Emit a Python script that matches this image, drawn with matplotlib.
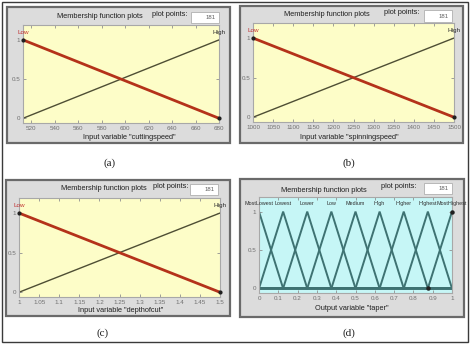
import matplotlib
matplotlib.use("Agg")
import matplotlib.pyplot as plt
from matplotlib.patches import Rectangle

W, H = 474, 347

# ---- data ----
speed_xlim = [513, 680]
speed_ticks = [520, 540, 560, 580, 600, 620, 640, 660, 680]
spin_xlim = [1000, 1500]
spin_ticks = [1000, 1050, 1100, 1150, 1200, 1250, 1300, 1350, 1400, 1450, 1500]
depth_xlim = [1, 1.5]
depth_ticks = [1, 1.05, 1.1, 1.15, 1.2, 1.25, 1.3, 1.35, 1.4, 1.45, 1.5]
depth_ticklabels = ["1", "1.05", "1.1", "1.15", "1.2", "1.25", "1.3", "1.35", "1.4", "1.45", "1.5"]
low_mf = [1, 0]
high_mf = [0, 1]

taper_xlim = [0, 1]
taper_ticks = [0, 0.1, 0.2, 0.3, 0.4, 0.5, 0.6, 0.7, 0.8, 0.9, 1]
taper_ticklabels = ["0", "0.1", "0.2", "0.3", "0.4", "0.5", "0.6", "0.7", "0.8", "0.9", "1"]
taper_names = ["MostLowest", "Lowest", "Lower", "Low", "Medium",
               "High", "Higher", "Highest", "MostHighest"]
taper_params = [[-0.125, 0, 0.125], [0, 0.125, 0.25], [0.125, 0.25, 0.375],
                [0.25, 0.375, 0.5], [0.375, 0.5, 0.625], [0.5, 0.625, 0.75],
                [0.625, 0.75, 0.875], [0.75, 0.875, 1], [0.875, 1, 1.125]]
yticks = [0, 0.5, 1]
yticklabels = ["0", "0.5", "1"]
plot_points = "181"

FONT = ["Liberation Sans", "DejaVu Sans"]
plt.rcParams["font.family"] = FONT

fig = plt.figure(figsize=(W / 100, H / 100), dpi=100)
fig.patch.set_facecolor("white")


def fx(x):
    return x / W


def fy(y):
    return 1 - y / H


def rect(x0, y0, x1, y1, zorder=1, **kw):
    fig.add_artist(Rectangle((fx(x0), fy(y1)), (x1 - x0) / W, (y1 - y0) / H,
                             transform=fig.transFigure, zorder=zorder, **kw))


def text(x, y, s, **kw):
    fig.text(fx(x), fy(y), s, **kw)


# outer border
rect(2, 2, 468, 342, zorder=-2, facecolor="none", edgecolor="#3a3a3a", lw=1.0)


def panel(frame, axbox, title_xy, pp_xy, box, xlabel_xy, xlabel, tag_xy, tag,
          xlim, ticks, ticklabels, face):
    rect(*frame, zorder=-1, facecolor="#dcdcdc", edgecolor="#6a6a6a", lw=1.6)
    x0, y0, x1, y1 = axbox
    ax = fig.add_axes([fx(x0), fy(y1), (x1 - x0) / W, (y1 - y0) / H])
    ax.set_facecolor(face)
    ax.set_xlim(*xlim)
    ax.set_ylim(-0.06, 1.19)
    ax.set_xticks(ticks)
    ax.set_xticklabels(ticklabels)
    ax.set_yticks(yticks)
    ax.set_yticklabels(yticklabels)
    ax.tick_params(direction="in", length=2.5, width=0.6, color="#909090",
                   labelsize=4.5, labelcolor="#707070", pad=2,
                   top=True, right=True)
    for sp in ax.spines.values():
        sp.set_color("#a8a8a8")
        sp.set_linewidth(0.8)
    text(title_xy[0], title_xy[1], "Membership function plots", fontsize=5.3,
         ha="center", va="center", color="#202020")
    text(pp_xy[0], pp_xy[1], "plot points:", fontsize=5.3, ha="left",
         va="center", color="#202020")
    bx0, by0, bx1, by1 = box
    rect(bx0, by0, bx1, by1, zorder=2, facecolor="white", edgecolor="#b0b0b0", lw=0.6)
    text(bx1 - 3, (by0 + by1) / 2, plot_points, fontsize=4.3, ha="right",
         va="center", color="#606060", zorder=3)
    text(xlabel_xy[0], xlabel_xy[1], xlabel, fontsize=5.3, ha="center",
         va="center", color="#202020")
    text(tag_xy[0], tag_xy[1], tag, fontsize=8, ha="center", va="center",
         family=["Liberation Serif", "DejaVu Serif"], color="#202020")
    return ax


def two_mf(ax, xlim):
    ax.plot(xlim, high_mf, color="#4e4e34", lw=1.0, zorder=2)
    ax.plot(xlim, low_mf, color="#b4321a", lw=2.0, zorder=3)
    ax.plot(xlim, low_mf, ls="none", marker="o", ms=2, color="#202020",
            zorder=4, clip_on=False)
    ax.text(xlim[0], 1.1, "Low", fontsize=4.6, color="#c03030", ha="center",
            va="center", clip_on=False)
    ax.text(xlim[1], 1.1, "High", fontsize=4.6, color="#303030", ha="center",
            va="center", clip_on=False)


yellow = "#fdfdc8"
cyan = "#c6f6f6"

ax_a = panel((7, 7, 230, 143), (23, 25, 219, 123), (100, 16), (152, 14),
             (191, 12, 219, 23), (129, 137), 'Input variable "cuttingspeed"',
             (110, 163), "(a)", speed_xlim, speed_ticks,
             [str(t) for t in speed_ticks], yellow)
two_mf(ax_a, speed_xlim)

ax_b = panel((240, 6, 463, 143), (253, 23, 454, 122), (327, 15), (384, 13),
             (424, 10, 452, 22), (349, 137), 'Input variable "spinningspeed"',
             (349, 163), "(b)", spin_xlim, spin_ticks,
             [str(t) for t in spin_ticks], yellow)
two_mf(ax_b, spin_xlim)

ax_c = panel((6, 180, 230, 316), (19, 198, 220, 297), (104, 189), (153, 187),
             (190, 184, 218, 195), (121, 310), 'Input variable "depthofcut"',
             (103, 333), "(c)", depth_xlim, depth_ticks, depth_ticklabels,
             yellow)
two_mf(ax_c, depth_xlim)

ax_d = panel((240, 179, 464, 317), (259, 197, 452, 293), (324, 191), (381, 186),
             (424, 183, 452, 194), (352, 309), 'Output variable "taper"',
             (349, 333), "(d)", taper_xlim, taper_ticks, taper_ticklabels,
             cyan)
for name, (a, b, c) in zip(taper_names, taper_params):
    ax_d.plot([taper_xlim[0], a, b, c, taper_xlim[1]], [0, 0, 1, 0, 0],
              color="#3e7272", lw=1.4, solid_joinstyle="miter")
    ax_d.text(b, 1.11, name, fontsize=3.9, color="#303030", ha="center",
              va="center", clip_on=False)
sel = taper_params[-1]
ax_d.plot([sel[0], sel[1]], [0, 1], ls="none", marker="o", ms=2.2,
          color="#202020", zorder=4, clip_on=False)

fig.savefig("out.png", dpi=100, facecolor="white")
